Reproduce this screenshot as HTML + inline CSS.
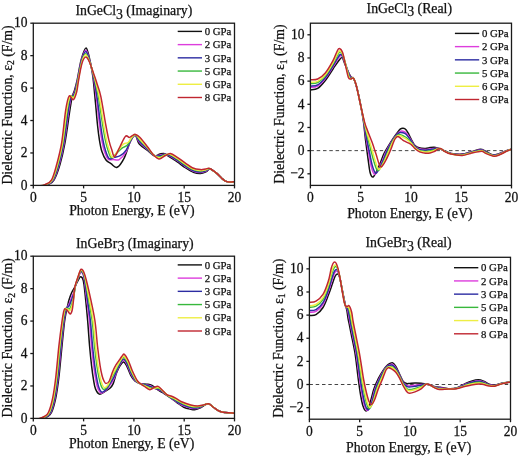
<!DOCTYPE html>
<html><head><meta charset="utf-8"><title>Dielectric Function</title>
<style>html,body{margin:0;padding:0;background:#fff;}body{width:520px;height:457px;overflow:hidden;}svg{display:block;}text{stroke:#111;stroke-width:0.25px;}</style>
</head><body>
<svg width="520" height="457" viewBox="0 0 520 457" font-family="'Liberation Serif', 'Times New Roman', serif" fill="#111">
<clipPath id="c0"><rect x="33.30" y="22.20" width="201.20" height="163.20"/></clipPath>
<g clip-path="url(#c0)" fill="none" stroke-width="1.50" stroke-linejoin="round" stroke-linecap="round">
<path d="M33.30,186.00 C34.75,185.98 39.50,186.13 42.00,185.90 C44.50,185.67 46.28,185.62 48.30,184.60 C50.32,183.58 52.17,183.10 54.10,179.80 C56.03,176.50 58.10,170.90 59.90,164.80 C61.70,158.70 63.23,152.33 64.90,143.20 C66.57,134.07 68.70,117.68 69.90,110.00 C71.10,102.32 71.50,99.93 72.10,97.10 C72.70,94.27 73.07,94.22 73.50,93.00 C73.93,91.78 74.07,92.07 74.70,89.80 C75.33,87.53 76.22,84.42 77.30,79.40 C78.38,74.38 79.73,64.92 81.20,59.70 C82.67,54.48 84.58,47.72 86.10,48.10 C87.62,48.48 89.22,57.52 90.30,62.00 C91.38,66.48 92.02,71.17 92.60,75.00 C93.18,78.83 93.32,80.35 93.80,85.00 C94.28,89.65 94.88,96.23 95.50,102.90 C96.12,109.57 96.85,118.85 97.50,125.00 C98.15,131.15 98.67,135.37 99.40,139.80 C100.13,144.23 100.80,148.23 101.90,151.60 C103.00,154.97 104.48,158.00 106.00,160.00 C107.52,162.00 109.15,162.38 111.00,163.60 C112.85,164.82 114.88,168.27 117.10,167.30 C119.32,166.33 122.12,162.02 124.30,157.80 C126.48,153.58 128.38,145.75 130.20,142.00 C132.02,138.25 133.68,134.97 135.20,135.30 C136.72,135.63 137.18,141.45 139.30,144.00 C141.42,146.55 145.38,148.63 147.90,150.60 C150.42,152.57 152.38,155.23 154.40,155.80 C156.42,156.37 158.30,154.37 160.00,154.00 C161.70,153.63 163.07,153.15 164.60,153.60 C166.13,154.05 167.08,155.32 169.20,156.70 C171.32,158.08 174.60,160.07 177.30,161.90 C180.00,163.73 182.72,165.97 185.40,167.70 C188.08,169.43 190.90,171.32 193.40,172.30 C195.90,173.28 198.25,173.72 200.40,173.60 C202.55,173.48 204.70,172.37 206.30,171.60 C207.90,170.83 208.30,168.73 210.00,169.00 C211.70,169.27 214.58,171.70 216.50,173.20 C218.42,174.70 220.08,176.72 221.50,178.00 C222.92,179.28 223.75,180.23 225.00,180.90 C226.25,181.57 227.42,181.87 229.00,182.00 C230.58,182.13 233.58,181.75 234.50,181.70" stroke="#111111"/>
<path d="M33.30,186.00 C34.62,185.98 38.89,186.13 41.25,185.90 C43.61,185.67 45.44,185.62 47.47,184.60 C49.51,183.58 51.54,183.10 53.48,179.80 C55.41,176.50 57.31,170.90 59.08,164.80 C60.84,158.70 62.45,152.33 64.08,143.20 C65.70,134.07 67.64,117.72 68.85,110.00 C70.06,102.28 70.58,99.40 71.35,96.85 C72.12,94.30 72.83,95.77 73.47,94.67 C74.12,93.58 74.51,92.82 75.20,90.30 C75.89,87.78 76.60,84.49 77.62,79.55 C78.65,74.61 79.99,65.54 81.38,60.68 C82.76,55.81 84.49,50.17 85.92,50.35 C87.36,50.53 88.79,57.61 89.97,61.75 C91.16,65.89 92.29,71.38 93.05,75.17 C93.81,78.97 93.92,80.15 94.55,84.50 C95.18,88.85 95.99,94.50 96.83,101.25 C97.66,108.00 98.75,118.58 99.58,125.00 C100.40,131.43 100.95,135.45 101.75,139.80 C102.55,144.15 103.28,147.88 104.35,151.10 C105.42,154.32 106.70,157.73 108.17,159.12 C109.65,160.52 111.36,159.38 113.20,159.45 C115.04,159.52 117.14,160.68 119.20,159.55 C121.26,158.43 123.62,155.89 125.55,152.70 C127.47,149.51 129.13,143.34 130.75,140.40 C132.37,137.46 133.80,134.75 135.25,135.08 C136.70,135.40 137.37,139.93 139.48,142.38 C141.58,144.82 145.47,147.59 147.90,149.78 C150.33,151.96 152.10,154.57 154.07,155.48 C156.05,156.38 157.98,155.45 159.75,155.22 C161.52,155.00 163.05,154.04 164.68,154.15 C166.30,154.26 167.40,154.78 169.50,155.88 C171.60,156.97 174.65,158.97 177.30,160.75 C179.95,162.53 182.76,164.82 185.40,166.55 C188.04,168.28 190.62,170.14 193.12,171.15 C195.62,172.16 198.24,172.63 200.40,172.60 C202.56,172.57 204.52,171.57 206.10,170.95 C207.68,170.33 208.17,168.50 209.90,168.88 C211.63,169.25 214.57,171.68 216.50,173.20 C218.43,174.72 220.08,176.72 221.50,178.00 C222.92,179.28 223.75,180.23 225.00,180.90 C226.25,181.57 227.42,181.87 229.00,182.00 C230.58,182.13 233.58,181.75 234.50,181.70" stroke="#dd3ddd"/>
<path d="M33.30,186.00 C34.56,185.98 38.58,186.13 40.88,185.90 C43.17,185.67 45.01,185.62 47.06,184.60 C49.11,183.58 51.23,183.10 53.16,179.80 C55.10,176.50 56.91,170.90 58.66,164.80 C60.41,158.70 62.05,152.33 63.66,143.20 C65.27,134.07 67.11,117.75 68.33,110.00 C69.54,102.25 70.12,99.14 70.97,96.72 C71.83,94.31 72.72,96.54 73.46,95.51 C74.21,94.48 74.73,93.20 75.45,90.55 C76.17,87.90 76.79,84.52 77.79,79.62 C78.79,74.73 80.12,65.85 81.46,61.16 C82.80,56.47 84.45,51.40 85.84,51.48 C87.23,51.55 88.57,57.66 89.81,61.62 C91.05,65.59 92.42,71.49 93.28,75.26 C94.13,79.03 94.22,80.06 94.92,84.25 C95.63,88.44 96.54,93.63 97.49,100.42 C98.44,107.22 99.71,118.44 100.61,125.00 C101.52,131.56 102.10,135.49 102.92,139.80 C103.75,144.11 104.52,147.70 105.58,150.85 C106.63,154.00 107.81,157.60 109.26,158.69 C110.72,159.78 112.47,157.88 114.30,157.38 C116.13,156.87 118.27,156.88 120.25,155.68 C122.23,154.47 124.38,152.83 126.17,150.15 C127.97,147.47 129.51,142.13 131.03,139.60 C132.54,137.07 133.85,134.64 135.28,134.96 C136.70,135.29 137.46,139.16 139.56,141.56 C141.67,143.96 145.51,147.07 147.90,149.36 C150.29,151.65 151.96,154.23 153.91,155.31 C155.87,156.39 157.82,155.99 159.62,155.84 C161.43,155.69 163.04,154.49 164.71,154.43 C166.38,154.36 167.55,154.50 169.65,155.46 C171.75,156.42 174.68,158.42 177.30,160.18 C179.93,161.93 182.79,164.24 185.40,165.97 C188.01,167.71 190.49,169.55 192.99,170.57 C195.49,171.60 198.23,172.09 200.40,172.10 C202.57,172.11 204.43,171.17 206.00,170.62 C207.57,170.08 208.10,168.38 209.85,168.81 C211.60,169.24 214.56,171.67 216.50,173.20 C218.44,174.73 220.08,176.72 221.50,178.00 C222.92,179.28 223.75,180.23 225.00,180.90 C226.25,181.57 227.42,181.87 229.00,182.00 C230.58,182.13 233.58,181.75 234.50,181.70" stroke="#2c2ca2"/>
<path d="M33.30,186.00 C34.44,185.98 37.97,186.13 40.12,185.90 C42.28,185.67 44.17,185.62 46.24,184.60 C48.31,183.58 50.60,183.10 52.54,179.80 C54.47,176.50 56.12,170.90 57.84,164.80 C59.55,158.70 61.26,152.33 62.84,143.20 C64.41,134.07 66.04,117.79 67.28,110.00 C68.51,102.21 69.20,98.61 70.22,96.47 C71.25,94.34 72.48,98.09 73.44,97.19 C74.39,96.28 75.17,93.95 75.95,91.05 C76.73,88.15 77.16,84.59 78.11,79.78 C79.06,74.96 80.38,66.48 81.64,62.14 C82.90,57.80 84.35,53.85 85.66,53.73 C86.97,53.60 88.14,57.76 89.49,61.38 C90.83,64.99 92.69,71.71 93.72,75.44 C94.76,79.17 94.83,79.86 95.67,83.75 C96.52,87.64 97.64,91.90 98.81,98.78 C99.98,105.65 101.61,118.16 102.69,125.00 C103.76,131.84 104.39,135.58 105.28,139.80 C106.16,144.03 107.00,147.35 108.03,150.35 C109.05,153.35 110.03,157.33 111.44,157.81 C112.85,158.29 114.68,154.87 116.50,153.22 C118.32,151.58 120.53,149.29 122.35,147.93 C124.17,146.56 125.89,146.70 127.43,145.05 C128.96,143.40 130.26,139.72 131.57,138.00 C132.89,136.28 133.96,134.41 135.32,134.74 C136.69,135.06 137.64,137.64 139.74,139.94 C141.83,142.24 145.59,146.03 147.90,148.54 C150.21,151.05 151.68,153.57 153.59,154.99 C155.50,156.41 157.51,157.06 159.38,157.06 C161.24,157.06 163.03,155.38 164.79,154.97 C166.55,154.57 167.86,153.96 169.95,154.64 C172.04,155.31 174.73,157.33 177.30,159.03 C179.88,160.72 182.83,163.09 185.40,164.82 C187.97,166.56 190.21,168.38 192.71,169.43 C195.21,170.47 198.22,171.01 200.40,171.10 C202.58,171.19 204.24,170.38 205.80,169.97 C207.36,169.57 207.97,168.15 209.75,168.69 C211.53,169.22 214.54,171.65 216.50,173.20 C218.46,174.75 220.08,176.72 221.50,178.00 C222.92,179.28 223.75,180.23 225.00,180.90 C226.25,181.57 227.42,181.87 229.00,182.00 C230.58,182.13 233.58,181.75 234.50,181.70" stroke="#38b83c"/>
<path d="M33.30,186.00 C34.38,185.98 37.66,186.13 39.75,185.90 C41.84,185.67 43.75,185.62 45.83,184.60 C47.90,183.58 50.29,183.10 52.23,179.80 C54.16,176.50 55.72,170.90 57.42,164.80 C59.12,158.70 60.87,152.33 62.43,143.20 C63.98,134.07 65.51,117.81 66.75,110.00 C67.99,102.19 68.74,98.35 69.85,96.35 C70.96,94.35 72.37,98.87 73.43,98.03 C74.48,97.18 75.39,94.33 76.20,91.30 C77.01,88.27 77.35,84.63 78.27,79.85 C79.20,75.07 80.51,66.79 81.73,62.62 C82.94,58.46 84.31,55.08 85.58,54.85 C86.84,54.62 87.93,57.80 89.33,61.25 C90.72,64.70 92.83,71.82 93.95,75.53 C95.07,79.23 95.13,79.76 96.05,83.50 C96.97,87.24 98.20,91.03 99.47,97.95 C100.75,104.87 102.56,118.03 103.72,125.00 C104.89,131.97 105.53,135.62 106.45,139.80 C107.37,143.98 108.24,147.17 109.25,150.10 C110.26,153.03 111.13,157.20 112.53,157.38 C113.92,157.55 115.79,153.37 117.60,151.15 C119.41,148.93 121.66,145.49 123.40,144.05 C125.14,142.61 126.64,143.64 128.05,142.50 C129.46,141.36 130.63,138.51 131.85,137.20 C133.07,135.89 134.02,134.30 135.35,134.62 C136.68,134.95 137.73,136.88 139.82,139.12 C141.92,141.38 145.63,145.51 147.90,148.12 C150.17,150.74 151.53,153.23 153.43,154.82 C155.32,156.42 157.35,157.60 159.25,157.68 C161.15,157.75 163.02,155.82 164.82,155.25 C166.63,154.68 168.02,153.69 170.10,154.22 C172.18,154.76 174.75,156.78 177.30,158.45 C179.85,160.12 182.85,162.52 185.40,164.25 C187.95,165.98 190.08,167.79 192.58,168.85 C195.08,169.91 198.21,170.47 200.40,170.60 C202.59,170.73 204.15,169.98 205.70,169.65 C207.25,169.32 207.90,168.03 209.70,168.62 C211.50,169.22 214.53,171.64 216.50,173.20 C218.47,174.76 220.08,176.72 221.50,178.00 C222.92,179.28 223.75,180.23 225.00,180.90 C226.25,181.57 227.42,181.87 229.00,182.00 C230.58,182.13 233.58,181.75 234.50,181.70" stroke="#eeee44"/>
<path d="M33.30,186.00 C34.25,185.98 37.05,186.13 39.00,185.90 C40.95,185.67 42.90,185.62 45.00,184.60 C47.10,183.58 49.67,183.10 51.60,179.80 C53.53,176.50 54.93,170.90 56.60,164.80 C58.27,158.70 60.08,152.33 61.60,143.20 C63.12,134.07 64.45,117.85 65.70,110.00 C66.95,102.15 67.82,97.82 69.10,96.10 C70.38,94.38 72.13,100.42 73.40,99.70 C74.67,98.98 75.83,95.08 76.70,91.80 C77.57,88.52 77.73,84.70 78.60,80.00 C79.47,75.30 80.77,67.42 81.90,63.60 C83.03,59.78 84.22,57.53 85.40,57.10 C86.58,56.67 87.50,57.90 89.00,61.00 C90.50,64.10 93.10,72.03 94.40,75.70 C95.70,79.37 95.73,79.57 96.80,83.00 C97.87,86.43 99.30,89.30 100.80,96.30 C102.30,103.30 104.47,117.75 105.80,125.00 C107.13,132.25 107.82,135.70 108.80,139.80 C109.78,143.90 110.72,146.82 111.70,149.60 C112.68,152.38 113.35,156.93 114.70,156.50 C116.05,156.07 118.00,150.37 119.80,147.00 C121.60,143.63 123.92,137.90 125.50,136.30 C127.08,134.70 128.15,137.52 129.30,137.40 C130.45,137.28 131.38,136.10 132.40,135.60 C133.42,135.10 134.13,134.08 135.40,134.40 C136.67,134.72 137.92,135.35 140.00,137.50 C142.08,139.65 145.72,144.47 147.90,147.30 C150.08,150.13 151.25,152.57 153.10,154.50 C154.95,156.43 157.03,158.68 159.00,158.90 C160.97,159.12 163.00,156.72 164.90,155.80 C166.80,154.88 168.33,153.15 170.40,153.40 C172.47,153.65 174.80,155.68 177.30,157.30 C179.80,158.92 182.90,161.37 185.40,163.10 C187.90,164.83 189.80,166.62 192.30,167.70 C194.80,168.78 198.20,169.38 200.40,169.60 C202.60,169.82 203.97,169.18 205.50,169.00 C207.03,168.82 207.77,167.80 209.60,168.50 C211.43,169.20 214.52,171.62 216.50,173.20 C218.48,174.78 220.08,176.72 221.50,178.00 C222.92,179.28 223.75,180.23 225.00,180.90 C226.25,181.57 227.42,181.87 229.00,182.00 C230.58,182.13 233.58,181.75 234.50,181.70" stroke="#c02630"/>
</g>
<rect x="33.30" y="23.20" width="201.20" height="162.20" fill="none" stroke="#1a1a1a" stroke-width="1.30"/>
<line x1="33.30" y1="185.40" x2="33.30" y2="188.40" stroke="#1a1a1a" stroke-width="1.30"/>
<text transform="translate(33.30,201.80) scale(1,1.12)" text-anchor="middle" font-size="13.5">0</text>
<line x1="83.60" y1="185.40" x2="83.60" y2="188.40" stroke="#1a1a1a" stroke-width="1.30"/>
<text transform="translate(83.60,201.80) scale(1,1.12)" text-anchor="middle" font-size="13.5">5</text>
<line x1="133.90" y1="185.40" x2="133.90" y2="188.40" stroke="#1a1a1a" stroke-width="1.30"/>
<text transform="translate(133.90,201.80) scale(1,1.12)" text-anchor="middle" font-size="13.5">10</text>
<line x1="184.20" y1="185.40" x2="184.20" y2="188.40" stroke="#1a1a1a" stroke-width="1.30"/>
<text transform="translate(184.20,201.80) scale(1,1.12)" text-anchor="middle" font-size="13.5">15</text>
<line x1="234.50" y1="185.40" x2="234.50" y2="188.40" stroke="#1a1a1a" stroke-width="1.30"/>
<text transform="translate(234.50,201.80) scale(1,1.12)" text-anchor="middle" font-size="13.5">20</text>
<line x1="30.30" y1="185.40" x2="33.30" y2="185.40" stroke="#1a1a1a" stroke-width="1.30"/>
<text transform="translate(27.50,189.60) scale(1,1.12)" text-anchor="end" font-size="13.5">0</text>
<line x1="30.30" y1="152.96" x2="33.30" y2="152.96" stroke="#1a1a1a" stroke-width="1.30"/>
<text transform="translate(27.50,157.16) scale(1,1.12)" text-anchor="end" font-size="13.5">2</text>
<line x1="30.30" y1="120.52" x2="33.30" y2="120.52" stroke="#1a1a1a" stroke-width="1.30"/>
<text transform="translate(27.50,124.72) scale(1,1.12)" text-anchor="end" font-size="13.5">4</text>
<line x1="30.30" y1="88.08" x2="33.30" y2="88.08" stroke="#1a1a1a" stroke-width="1.30"/>
<text transform="translate(27.50,92.28) scale(1,1.12)" text-anchor="end" font-size="13.5">6</text>
<line x1="30.30" y1="55.64" x2="33.30" y2="55.64" stroke="#1a1a1a" stroke-width="1.30"/>
<text transform="translate(27.50,59.84) scale(1,1.12)" text-anchor="end" font-size="13.5">8</text>
<line x1="30.30" y1="23.20" x2="33.30" y2="23.20" stroke="#1a1a1a" stroke-width="1.30"/>
<text transform="translate(27.50,27.40) scale(1,1.12)" text-anchor="end" font-size="13.5">10</text>
<text x="69.20" y="214.50" font-size="13.8">Photon Energy, E (eV)</text>
<text x="75.40" y="14.90" font-size="13.8">InGeCl<tspan dy="3.6">3</tspan><tspan dy="-3.6"> (Imaginary)</tspan></text>
<text transform="translate(11.50,104.95) rotate(-90)" text-anchor="middle" font-size="13.8">Dielectric Function, ε<tspan font-size="9.7" dy="2.5">2</tspan><tspan dy="-2.5"> (F/m)</tspan></text>
<line x1="177.70" y1="31.40" x2="202.00" y2="31.40" stroke="#111111" stroke-width="1.4"/>
<text x="204.70" y="35.10" font-size="10.8">0 GPa</text>
<line x1="177.70" y1="44.62" x2="202.00" y2="44.62" stroke="#dd3ddd" stroke-width="1.4"/>
<text x="204.70" y="48.32" font-size="10.8">2 GPa</text>
<line x1="177.70" y1="57.84" x2="202.00" y2="57.84" stroke="#2c2ca2" stroke-width="1.4"/>
<text x="204.70" y="61.54" font-size="10.8">3 GPa</text>
<line x1="177.70" y1="71.06" x2="202.00" y2="71.06" stroke="#38b83c" stroke-width="1.4"/>
<text x="204.70" y="74.76" font-size="10.8">5 GPa</text>
<line x1="177.70" y1="84.28" x2="202.00" y2="84.28" stroke="#eeee44" stroke-width="1.4"/>
<text x="204.70" y="87.98" font-size="10.8">6 GPa</text>
<line x1="177.70" y1="97.50" x2="202.00" y2="97.50" stroke="#c02630" stroke-width="1.4"/>
<text x="204.70" y="101.20" font-size="10.8">8 GPa</text>
<clipPath id="c1"><rect x="310.40" y="22.20" width="201.10" height="163.20"/></clipPath>
<line x1="310.40" y1="150.64" x2="511.50" y2="150.64" stroke="#444" stroke-width="1" stroke-dasharray="3.5,2.8"/>
<g clip-path="url(#c1)" fill="none" stroke-width="1.50" stroke-linejoin="round" stroke-linecap="round">
<path d="M310.40,90.00 C311.62,89.73 315.22,89.98 317.70,88.40 C320.18,86.82 322.75,83.73 325.30,80.50 C327.85,77.27 330.80,72.25 333.00,69.00 C335.20,65.75 336.98,62.88 338.50,61.00 C340.02,59.12 341.03,57.17 342.10,57.70 C343.17,58.23 343.82,61.72 344.90,64.20 C345.98,66.68 347.58,70.47 348.60,72.60 C349.62,74.73 350.43,76.10 351.00,77.00 C351.57,77.90 351.58,77.80 352.00,78.00 C352.42,78.20 352.67,76.47 353.50,78.20 C354.33,79.93 355.80,83.90 357.00,88.40 C358.20,92.90 359.62,99.62 360.70,105.20 C361.78,110.78 362.70,116.15 363.50,121.90 C364.30,127.65 364.73,133.45 365.50,139.70 C366.27,145.95 367.33,153.93 368.10,159.40 C368.87,164.87 369.33,169.55 370.10,172.50 C370.87,175.45 371.72,177.10 372.70,177.10 C373.68,177.10 374.70,174.93 376.00,172.50 C377.30,170.07 379.18,165.62 380.50,162.50 C381.82,159.38 382.70,156.37 383.90,153.80 C385.10,151.23 386.27,149.52 387.70,147.10 C389.13,144.68 390.97,141.63 392.50,139.30 C394.03,136.97 395.62,134.78 396.90,133.10 C398.18,131.42 399.17,130.00 400.20,129.20 C401.23,128.40 402.13,128.22 403.10,128.30 C404.07,128.38 405.03,128.67 406.00,129.70 C406.97,130.73 407.98,132.82 408.90,134.50 C409.82,136.18 410.48,137.97 411.50,139.80 C412.52,141.63 413.75,144.17 415.00,145.50 C416.25,146.83 417.27,147.32 419.00,147.80 C420.73,148.28 423.57,148.43 425.40,148.40 C427.23,148.37 428.57,147.78 430.00,147.60 C431.43,147.42 432.65,147.20 434.00,147.30 C435.35,147.40 436.93,147.87 438.10,148.20 C439.27,148.53 439.93,148.87 441.00,149.30 C442.07,149.73 442.82,150.12 444.50,150.80 C446.18,151.48 448.15,152.85 451.10,153.40 C454.05,153.95 458.97,154.33 462.20,154.10 C465.43,153.87 467.50,152.82 470.50,152.00 C473.50,151.18 477.67,149.32 480.20,149.20 C482.73,149.08 483.63,150.37 485.70,151.30 C487.77,152.23 490.28,154.45 492.60,154.80 C494.92,155.15 497.28,154.10 499.60,153.40 C501.92,152.70 504.52,151.30 506.50,150.60 C508.48,149.90 510.67,149.43 511.50,149.20" stroke="#111111"/>
<path d="M310.40,87.45 C311.62,87.22 315.22,87.53 317.70,86.05 C320.18,84.58 322.75,81.79 325.30,78.60 C327.85,75.41 330.86,70.23 333.00,66.90 C335.14,63.57 336.73,60.55 338.12,58.62 C339.52,56.70 340.37,54.93 341.40,55.38 C342.43,55.82 343.25,58.67 344.32,61.28 C345.40,63.88 346.88,68.37 347.88,71.00 C348.88,73.63 349.70,75.84 350.32,77.05 C350.95,78.26 351.10,78.08 351.62,78.28 C352.15,78.47 352.59,76.67 353.45,78.20 C354.31,79.73 355.60,83.13 356.77,87.48 C357.95,91.82 359.31,98.54 360.48,104.28 C361.64,110.01 362.83,116.38 363.75,121.90 C364.67,127.42 365.11,131.86 366.00,137.40 C366.89,142.94 368.17,150.04 369.10,155.12 C370.03,160.21 370.67,164.69 371.58,167.90 C372.48,171.11 373.50,173.92 374.52,174.38 C375.55,174.83 376.50,172.77 377.75,170.62 C379.00,168.48 380.75,164.49 382.05,161.53 C383.35,158.56 384.39,155.46 385.57,152.85 C386.76,150.24 387.88,148.17 389.15,145.88 C390.42,143.58 391.90,141.06 393.23,139.08 C394.55,137.09 395.96,135.23 397.12,133.95 C398.29,132.67 399.20,131.82 400.20,131.38 C401.20,130.93 402.13,131.08 403.10,131.30 C404.07,131.53 405.03,131.83 406.00,132.72 C406.97,133.62 407.97,135.28 408.90,136.68 C409.83,138.08 410.56,139.53 411.57,141.12 C412.59,142.72 413.74,144.99 415.00,146.28 C416.26,147.56 417.42,148.27 419.15,148.83 C420.88,149.38 423.59,149.58 425.40,149.60 C427.21,149.62 428.57,149.15 430.00,148.95 C431.43,148.75 432.65,148.49 434.00,148.40 C435.35,148.31 436.93,148.28 438.10,148.40 C439.27,148.52 439.93,148.70 441.00,149.12 C442.07,149.55 442.82,150.18 444.50,150.93 C446.18,151.67 448.15,152.99 451.10,153.57 C454.05,154.16 458.97,154.65 462.20,154.45 C465.43,154.25 467.45,153.14 470.50,152.35 C473.55,151.56 477.99,149.81 480.52,149.72 C483.06,149.64 483.63,150.92 485.70,151.83 C487.77,152.73 490.63,154.83 492.95,155.15 C495.27,155.47 497.34,154.48 499.60,153.75 C501.86,153.02 504.52,151.53 506.50,150.78 C508.48,150.02 510.67,149.46 511.50,149.20" stroke="#dd3ddd"/>
<path d="M310.40,86.17 C311.62,85.96 315.22,86.30 317.70,84.88 C320.18,83.45 322.75,80.82 325.30,77.65 C327.85,74.48 330.89,69.22 333.00,65.85 C335.11,62.48 336.60,59.38 337.94,57.44 C339.28,55.50 340.03,53.82 341.05,54.21 C342.07,54.61 342.96,57.15 344.04,59.81 C345.11,62.48 346.52,67.32 347.51,70.20 C348.50,73.08 349.33,75.71 349.99,77.08 C350.64,78.44 350.86,78.22 351.44,78.41 C352.01,78.60 352.55,76.77 353.43,78.20 C354.30,79.63 355.51,82.74 356.66,87.01 C357.82,91.28 359.16,98.00 360.36,103.81 C361.56,109.63 362.89,116.49 363.88,121.90 C364.86,127.31 365.30,131.07 366.25,136.25 C367.20,141.43 368.59,148.10 369.60,152.99 C370.61,157.88 371.34,162.26 372.31,165.60 C373.29,168.94 374.39,172.33 375.44,173.01 C376.49,173.69 377.39,171.68 378.62,169.69 C379.86,167.69 381.53,163.92 382.82,161.04 C384.12,158.15 385.24,155.00 386.41,152.38 C387.59,149.75 388.68,147.50 389.88,145.26 C391.07,143.03 392.36,140.78 393.59,138.96 C394.81,137.15 396.14,135.46 397.24,134.38 C398.34,133.29 399.22,132.72 400.20,132.46 C401.18,132.20 402.13,132.50 403.10,132.80 C404.07,133.10 405.03,133.41 406.00,134.24 C406.97,135.06 407.96,136.50 408.90,137.76 C409.84,139.02 410.60,140.30 411.61,141.79 C412.63,143.27 413.73,145.40 415.00,146.66 C416.27,147.92 417.49,148.75 419.23,149.34 C420.96,149.93 423.60,150.15 425.40,150.20 C427.20,150.25 428.57,149.83 430.00,149.62 C431.43,149.42 432.65,149.14 434.00,148.95 C435.35,148.76 436.93,148.49 438.10,148.50 C439.27,148.51 439.93,148.62 441.00,149.04 C442.07,149.45 442.82,150.22 444.50,150.99 C446.18,151.76 448.15,153.06 451.10,153.66 C454.05,154.27 458.97,154.81 462.20,154.62 C465.43,154.44 467.42,153.30 470.50,152.53 C473.58,151.75 478.15,150.06 480.69,149.99 C483.22,149.91 483.63,151.20 485.70,152.09 C487.77,152.98 490.81,155.02 493.12,155.32 C495.44,155.63 497.37,154.67 499.60,153.93 C501.83,153.18 504.52,151.65 506.50,150.86 C508.48,150.08 510.67,149.48 511.50,149.20" stroke="#2c2ca2"/>
<path d="M310.40,83.62 C311.62,83.44 315.22,83.84 317.70,82.53 C320.18,81.21 322.75,78.88 325.30,75.75 C327.85,72.62 330.96,67.20 333.00,63.75 C335.04,60.30 336.34,57.04 337.56,55.06 C338.79,53.09 339.37,51.58 340.35,51.89 C341.33,52.19 342.39,54.10 343.46,56.89 C344.54,59.67 345.81,65.23 346.79,68.60 C347.76,71.97 348.60,75.44 349.31,77.12 C350.02,78.81 350.39,78.51 351.06,78.69 C351.74,78.87 352.48,76.97 353.38,78.20 C354.27,79.43 355.31,81.97 356.44,86.09 C357.56,90.20 358.86,96.92 360.14,102.89 C361.42,108.86 363.02,116.72 364.12,121.90 C365.23,127.08 365.67,129.48 366.75,133.95 C367.83,138.42 369.43,144.20 370.60,148.71 C371.77,153.22 372.68,157.40 373.79,161.00 C374.90,164.60 376.16,169.15 377.26,170.29 C378.36,171.42 379.19,169.52 380.38,167.81 C381.56,166.11 383.09,162.79 384.38,160.06 C385.66,157.33 386.93,154.10 388.09,151.43 C389.25,148.75 390.29,146.15 391.32,144.04 C392.36,141.92 393.29,140.21 394.31,138.74 C395.34,137.27 396.48,135.91 397.46,135.22 C398.44,134.54 399.26,134.54 400.20,134.64 C401.14,134.73 402.13,135.36 403.10,135.80 C404.07,136.24 405.03,136.57 406.00,137.26 C406.97,137.95 407.95,138.96 408.90,139.94 C409.85,140.91 410.67,141.86 411.69,143.11 C412.70,144.36 413.72,146.23 415.00,147.44 C416.28,148.65 417.64,149.70 419.38,150.36 C421.11,151.02 423.63,151.30 425.40,151.40 C427.17,151.50 428.57,151.20 430.00,150.97 C431.43,150.75 432.65,150.43 434.00,150.05 C435.35,149.67 436.93,148.90 438.10,148.70 C439.27,148.50 439.93,148.46 441.00,148.86 C442.07,149.26 442.82,150.28 444.50,151.11 C446.18,151.94 448.15,153.19 451.10,153.84 C454.05,154.48 458.97,155.14 462.20,154.97 C465.43,154.81 467.36,153.62 470.50,152.88 C473.64,152.13 478.48,150.56 481.01,150.51 C483.55,150.47 483.62,151.75 485.70,152.61 C487.78,153.47 491.16,155.40 493.48,155.68 C495.79,155.95 497.43,155.05 499.60,154.28 C501.77,153.50 504.52,151.88 506.50,151.04 C508.48,150.19 510.67,149.51 511.50,149.20" stroke="#38b83c"/>
<path d="M310.40,82.35 C311.62,82.18 315.22,82.61 317.70,81.35 C320.18,80.09 322.75,77.91 325.30,74.80 C327.85,71.69 330.99,66.19 333.00,62.70 C335.01,59.21 336.21,55.87 337.38,53.88 C338.54,51.88 339.03,50.47 340.00,50.73 C340.97,50.98 342.10,52.58 343.18,55.42 C344.25,58.27 345.46,64.18 346.43,67.80 C347.39,71.42 348.23,75.31 348.98,77.15 C349.72,78.99 350.15,78.65 350.88,78.82 C351.60,79.00 352.44,77.07 353.35,78.20 C354.26,79.33 355.21,81.59 356.33,85.62 C357.44,89.66 358.70,96.38 360.02,102.42 C361.35,108.47 363.09,116.84 364.25,121.90 C365.41,126.96 365.86,128.69 367.00,132.80 C368.14,136.91 369.85,142.26 371.10,146.58 C372.35,150.89 373.35,154.97 374.52,158.70 C375.70,162.42 377.05,167.56 378.18,168.92 C379.30,170.29 380.09,168.43 381.25,166.88 C382.41,165.32 383.87,162.23 385.15,159.57 C386.43,156.92 387.77,153.64 388.93,150.95 C390.08,148.26 391.09,145.48 392.05,143.42 C393.01,141.37 393.75,139.92 394.67,138.62 C395.60,137.33 396.65,136.13 397.57,135.65 C398.50,135.17 399.28,135.45 400.20,135.72 C401.12,136.00 402.13,136.79 403.10,137.30 C404.07,137.81 405.03,138.15 406.00,138.78 C406.97,139.40 407.95,140.19 408.90,141.02 C409.85,141.86 410.71,142.64 411.73,143.78 C412.74,144.91 413.71,146.64 415.00,147.82 C416.29,149.01 417.72,150.18 419.45,150.88 C421.18,151.57 423.64,151.87 425.40,152.00 C427.16,152.13 428.57,151.88 430.00,151.65 C431.43,151.42 432.65,151.07 434.00,150.60 C435.35,150.12 436.93,149.10 438.10,148.80 C439.27,148.50 439.93,148.38 441.00,148.78 C442.07,149.17 442.82,150.32 444.50,151.18 C446.18,152.03 448.15,153.26 451.10,153.93 C454.05,154.59 458.97,155.30 462.20,155.15 C465.43,155.00 467.34,153.78 470.50,153.05 C473.66,152.32 478.64,150.80 481.18,150.78 C483.71,150.75 483.62,152.03 485.70,152.88 C487.78,153.72 491.33,155.59 493.65,155.85 C495.97,156.11 497.46,155.24 499.60,154.45 C501.74,153.66 504.52,152.00 506.50,151.12 C508.48,150.25 510.67,149.52 511.50,149.20" stroke="#eeee44"/>
<path d="M310.40,79.80 C311.62,79.67 315.22,80.15 317.70,79.00 C320.18,77.85 322.75,75.97 325.30,72.90 C327.85,69.83 331.05,64.17 333.00,60.60 C334.95,57.03 335.95,53.53 337.00,51.50 C338.05,49.47 338.37,48.23 339.30,48.40 C340.23,48.57 341.53,49.53 342.60,52.50 C343.67,55.47 344.75,62.08 345.70,66.20 C346.65,70.32 347.50,75.05 348.30,77.20 C349.10,79.35 349.67,78.93 350.50,79.10 C351.33,79.27 352.37,77.27 353.30,78.20 C354.23,79.13 355.02,80.82 356.10,84.70 C357.18,88.58 358.40,95.30 359.80,101.50 C361.20,107.70 363.22,117.07 364.50,121.90 C365.78,126.73 366.23,127.10 367.50,130.50 C368.77,133.90 370.68,138.37 372.10,142.30 C373.52,146.23 374.68,150.12 376.00,154.10 C377.32,158.08 378.83,164.38 380.00,166.20 C381.17,168.02 381.88,166.27 383.00,165.00 C384.12,163.73 385.43,161.10 386.70,158.60 C387.97,156.10 389.47,152.73 390.60,150.00 C391.73,147.27 392.70,144.13 393.50,142.20 C394.30,140.27 394.68,139.35 395.40,138.40 C396.12,137.45 397.00,136.58 397.80,136.50 C398.60,136.42 399.32,137.27 400.20,137.90 C401.08,138.53 402.13,139.65 403.10,140.30 C404.07,140.95 405.03,141.32 406.00,141.80 C406.97,142.28 407.93,142.65 408.90,143.20 C409.87,143.75 410.78,144.20 411.80,145.10 C412.82,146.00 413.70,147.47 415.00,148.60 C416.30,149.73 417.87,151.13 419.60,151.90 C421.33,152.67 423.67,153.02 425.40,153.20 C427.13,153.38 428.57,153.25 430.00,153.00 C431.43,152.75 432.65,152.37 434.00,151.70 C435.35,151.03 436.93,149.52 438.10,149.00 C439.27,148.48 439.93,148.22 441.00,148.60 C442.07,148.98 442.82,150.38 444.50,151.30 C446.18,152.22 448.15,153.40 451.10,154.10 C454.05,154.80 458.97,155.62 462.20,155.50 C465.43,155.38 467.28,154.10 470.50,153.40 C473.72,152.70 478.97,151.30 481.50,151.30 C484.03,151.30 483.62,152.58 485.70,153.40 C487.78,154.22 491.68,155.97 494.00,156.20 C496.32,156.43 497.52,155.62 499.60,154.80 C501.68,153.98 504.52,152.23 506.50,151.30 C508.48,150.37 510.67,149.55 511.50,149.20" stroke="#c02630"/>
</g>
<rect x="310.40" y="23.20" width="201.10" height="162.20" fill="none" stroke="#1a1a1a" stroke-width="1.30"/>
<line x1="310.40" y1="185.40" x2="310.40" y2="188.40" stroke="#1a1a1a" stroke-width="1.30"/>
<text transform="translate(310.40,201.80) scale(1,1.12)" text-anchor="middle" font-size="13.5">0</text>
<line x1="360.67" y1="185.40" x2="360.67" y2="188.40" stroke="#1a1a1a" stroke-width="1.30"/>
<text transform="translate(360.67,201.80) scale(1,1.12)" text-anchor="middle" font-size="13.5">5</text>
<line x1="410.95" y1="185.40" x2="410.95" y2="188.40" stroke="#1a1a1a" stroke-width="1.30"/>
<text transform="translate(410.95,201.80) scale(1,1.12)" text-anchor="middle" font-size="13.5">10</text>
<line x1="461.23" y1="185.40" x2="461.23" y2="188.40" stroke="#1a1a1a" stroke-width="1.30"/>
<text transform="translate(461.23,201.80) scale(1,1.12)" text-anchor="middle" font-size="13.5">15</text>
<line x1="511.50" y1="185.40" x2="511.50" y2="188.40" stroke="#1a1a1a" stroke-width="1.30"/>
<text transform="translate(511.50,201.80) scale(1,1.12)" text-anchor="middle" font-size="13.5">20</text>
<line x1="307.40" y1="173.81" x2="310.40" y2="173.81" stroke="#1a1a1a" stroke-width="1.30"/>
<text transform="translate(304.60,178.01) scale(1,1.12)" text-anchor="end" font-size="13.5">−2</text>
<line x1="307.40" y1="150.64" x2="310.40" y2="150.64" stroke="#1a1a1a" stroke-width="1.30"/>
<text transform="translate(304.60,154.84) scale(1,1.12)" text-anchor="end" font-size="13.5">0</text>
<line x1="307.40" y1="127.47" x2="310.40" y2="127.47" stroke="#1a1a1a" stroke-width="1.30"/>
<text transform="translate(304.60,131.67) scale(1,1.12)" text-anchor="end" font-size="13.5">2</text>
<line x1="307.40" y1="104.30" x2="310.40" y2="104.30" stroke="#1a1a1a" stroke-width="1.30"/>
<text transform="translate(304.60,108.50) scale(1,1.12)" text-anchor="end" font-size="13.5">4</text>
<line x1="307.40" y1="81.13" x2="310.40" y2="81.13" stroke="#1a1a1a" stroke-width="1.30"/>
<text transform="translate(304.60,85.33) scale(1,1.12)" text-anchor="end" font-size="13.5">6</text>
<line x1="307.40" y1="57.96" x2="310.40" y2="57.96" stroke="#1a1a1a" stroke-width="1.30"/>
<text transform="translate(304.60,62.16) scale(1,1.12)" text-anchor="end" font-size="13.5">8</text>
<line x1="307.40" y1="34.79" x2="310.40" y2="34.79" stroke="#1a1a1a" stroke-width="1.30"/>
<text transform="translate(304.60,38.99) scale(1,1.12)" text-anchor="end" font-size="13.5">10</text>
<text x="347.20" y="217.50" font-size="13.8">Photon Energy, E (eV)</text>
<text x="366.60" y="12.70" font-size="13.8">InGeCl<tspan dy="3.6">3</tspan><tspan dy="-3.6"> (Real)</tspan></text>
<text transform="translate(284.20,104.10) rotate(-90)" text-anchor="middle" font-size="13.8">Dielectric Function, ε<tspan font-size="9.7" dy="2.5">1</tspan><tspan dy="-2.5"> (F/m)</tspan></text>
<line x1="454.90" y1="33.40" x2="479.20" y2="33.40" stroke="#111111" stroke-width="1.4"/>
<text x="481.90" y="37.10" font-size="10.8">0 GPa</text>
<line x1="454.90" y1="46.62" x2="479.20" y2="46.62" stroke="#dd3ddd" stroke-width="1.4"/>
<text x="481.90" y="50.32" font-size="10.8">2 GPa</text>
<line x1="454.90" y1="59.84" x2="479.20" y2="59.84" stroke="#2c2ca2" stroke-width="1.4"/>
<text x="481.90" y="63.54" font-size="10.8">3 GPa</text>
<line x1="454.90" y1="73.06" x2="479.20" y2="73.06" stroke="#38b83c" stroke-width="1.4"/>
<text x="481.90" y="76.76" font-size="10.8">5 GPa</text>
<line x1="454.90" y1="86.28" x2="479.20" y2="86.28" stroke="#eeee44" stroke-width="1.4"/>
<text x="481.90" y="89.98" font-size="10.8">6 GPa</text>
<line x1="454.90" y1="99.50" x2="479.20" y2="99.50" stroke="#c02630" stroke-width="1.4"/>
<text x="481.90" y="103.20" font-size="10.8">8 GPa</text>
<clipPath id="c2"><rect x="33.30" y="255.20" width="201.20" height="163.20"/></clipPath>
<g clip-path="url(#c2)" fill="none" stroke-width="1.50" stroke-linejoin="round" stroke-linecap="round">
<path d="M33.30,419.00 C34.58,418.98 38.63,419.32 41.00,418.90 C43.37,418.48 45.73,417.60 47.50,416.50 C49.27,415.40 50.22,415.42 51.60,412.30 C52.98,409.18 54.58,403.68 55.80,397.80 C57.02,391.92 57.87,385.67 58.90,377.00 C59.93,368.33 61.07,354.97 62.00,345.80 C62.93,336.63 63.80,327.63 64.50,322.00 C65.20,316.37 65.78,314.33 66.20,312.00 C66.62,309.67 66.73,309.17 67.00,308.00 C67.27,306.83 67.48,306.30 67.80,305.00 C68.12,303.70 68.28,302.20 68.90,300.20 C69.52,298.20 70.52,295.18 71.50,293.00 C72.48,290.82 74.05,288.52 74.80,287.10 C75.55,285.68 75.45,285.60 76.00,284.50 C76.55,283.40 77.35,281.80 78.10,280.50 C78.85,279.20 79.63,276.70 80.50,276.70 C81.37,276.70 82.50,277.25 83.30,280.50 C84.10,283.75 84.58,289.62 85.30,296.20 C86.02,302.78 86.88,311.67 87.60,320.00 C88.32,328.33 88.93,338.55 89.60,346.20 C90.27,353.85 90.95,360.32 91.60,365.90 C92.25,371.48 92.85,375.87 93.50,379.70 C94.15,383.53 94.52,386.50 95.50,388.90 C96.48,391.30 97.87,393.67 99.40,394.10 C100.93,394.53 102.95,392.48 104.70,391.50 C106.45,390.52 108.48,389.52 109.90,388.20 C111.32,386.88 112.10,386.12 113.20,383.60 C114.30,381.08 115.30,376.17 116.50,373.10 C117.70,370.03 119.20,367.05 120.40,365.20 C121.60,363.35 122.60,361.77 123.70,362.00 C124.80,362.23 125.80,364.32 127.00,366.60 C128.20,368.88 129.58,373.30 130.90,375.70 C132.22,378.10 133.37,379.68 134.90,381.00 C136.43,382.32 138.15,383.07 140.10,383.60 C142.05,384.13 144.62,383.92 146.60,384.20 C148.58,384.48 150.18,384.38 152.00,385.30 C153.82,386.22 156.00,388.62 157.50,389.70 C159.00,390.78 159.90,391.17 161.00,391.80 C162.10,392.43 162.50,392.48 164.10,393.50 C165.70,394.52 168.42,396.35 170.60,397.90 C172.78,399.45 175.00,401.25 177.20,402.80 C179.40,404.35 181.53,406.12 183.80,407.20 C186.07,408.28 189.00,408.87 190.80,409.30 C192.60,409.73 193.00,410.03 194.60,409.80 C196.20,409.57 198.83,408.62 200.40,407.90 C201.97,407.18 202.63,406.18 204.00,405.50 C205.37,404.82 206.97,403.47 208.60,403.80 C210.23,404.13 211.97,406.27 213.80,407.50 C215.63,408.73 217.67,410.37 219.60,411.20 C221.53,412.03 222.92,412.17 225.40,412.50 C227.88,412.83 232.98,413.08 234.50,413.20" stroke="#111111"/>
<path d="M33.30,419.00 C34.46,418.98 38.01,419.32 40.25,418.90 C42.49,418.48 44.96,417.60 46.73,416.50 C48.49,415.40 49.44,415.42 50.83,412.30 C52.21,409.18 53.81,403.68 55.02,397.80 C56.24,391.92 57.09,385.67 58.12,377.00 C59.16,368.33 60.27,354.97 61.23,345.80 C62.18,336.63 63.13,327.63 63.85,322.00 C64.57,316.37 65.11,314.30 65.55,312.00 C65.99,309.70 66.11,309.10 66.47,308.18 C66.84,307.25 67.29,307.18 67.75,306.43 C68.21,305.67 68.57,305.18 69.23,303.65 C69.88,302.12 70.80,299.46 71.67,297.25 C72.55,295.04 73.80,292.39 74.47,290.38 C75.15,288.36 75.10,287.12 75.70,285.15 C76.30,283.18 77.24,280.68 78.10,278.55 C78.96,276.42 79.88,272.61 80.84,272.39 C81.81,272.18 83.02,273.55 83.90,277.25 C84.78,280.95 85.21,287.45 86.12,294.57 C87.04,301.70 88.49,311.40 89.40,320.00 C90.31,328.60 90.85,338.55 91.57,346.20 C92.30,353.85 93.05,360.48 93.72,365.90 C94.40,371.32 95.00,375.06 95.65,378.70 C96.30,382.34 96.72,385.36 97.62,387.77 C98.53,390.17 99.68,392.70 101.05,393.11 C102.42,393.51 104.26,391.69 105.85,390.19 C107.44,388.69 109.24,385.96 110.58,384.10 C111.91,382.24 112.70,381.44 113.85,379.00 C115.00,376.56 116.30,372.15 117.47,369.45 C118.65,366.75 119.86,364.33 120.93,362.77 C121.99,361.22 122.81,359.72 123.88,360.10 C124.94,360.48 126.10,362.69 127.33,365.08 C128.55,367.46 129.85,371.75 131.22,374.40 C132.60,377.05 134.02,379.44 135.55,381.00 C137.08,382.56 138.68,383.15 140.43,383.78 C142.18,384.40 144.21,384.31 146.05,384.75 C147.89,385.19 149.68,385.67 151.45,386.40 C153.22,387.13 155.20,388.47 156.68,389.15 C158.15,389.82 159.13,389.88 160.28,390.45 C161.42,391.02 161.99,391.45 163.55,392.55 C165.11,393.65 167.60,395.64 169.65,397.07 C171.70,398.51 173.79,399.85 175.82,401.18 C177.86,402.50 179.76,403.96 181.88,405.00 C183.99,406.04 186.54,406.80 188.50,407.40 C190.46,408.00 191.79,408.60 193.65,408.60 C195.51,408.60 197.98,407.96 199.68,407.42 C201.37,406.89 202.34,405.98 203.82,405.38 C205.31,404.77 206.94,403.45 208.60,403.80 C210.26,404.15 211.97,406.27 213.80,407.50 C215.63,408.73 217.67,410.37 219.60,411.20 C221.53,412.03 222.92,412.17 225.40,412.50 C227.88,412.83 232.98,413.08 234.50,413.20" stroke="#dd3ddd"/>
<path d="M33.30,419.00 C34.40,418.98 37.70,419.32 39.88,418.90 C42.05,418.48 44.58,417.60 46.34,416.50 C48.10,415.40 49.05,415.42 50.44,412.30 C51.82,409.18 53.42,403.68 54.64,397.80 C55.85,391.92 56.70,385.67 57.74,377.00 C58.77,368.33 59.87,354.97 60.84,345.80 C61.80,336.63 62.79,327.63 63.52,322.00 C64.26,316.37 64.78,314.29 65.23,312.00 C65.67,309.71 65.80,309.07 66.21,308.26 C66.63,307.45 67.20,307.62 67.72,307.14 C68.25,306.66 68.71,306.67 69.39,305.38 C70.06,304.08 70.94,301.60 71.76,299.38 C72.58,297.15 73.68,294.33 74.31,292.01 C74.94,289.70 74.92,287.79 75.55,285.48 C76.18,283.16 77.21,280.42 78.10,278.11 C78.99,275.80 79.92,271.90 80.91,271.63 C81.89,271.37 83.10,272.83 84.03,276.52 C84.97,280.21 85.49,286.52 86.54,293.76 C87.58,301.01 89.30,311.26 90.30,320.00 C91.30,328.74 91.81,338.55 92.56,346.20 C93.31,353.85 94.09,360.57 94.79,365.90 C95.48,371.23 96.07,374.70 96.72,378.20 C97.38,381.70 97.83,384.58 98.69,386.90 C99.55,389.22 100.59,391.75 101.88,392.12 C103.16,392.48 104.92,390.77 106.42,389.09 C107.93,387.41 109.62,384.11 110.91,382.05 C112.20,379.99 113.00,379.10 114.17,376.70 C115.35,374.30 116.79,370.15 117.96,367.62 C119.13,365.10 120.19,362.98 121.19,361.56 C122.19,360.15 122.91,358.69 123.96,359.15 C125.01,359.61 126.25,361.88 127.49,364.31 C128.73,366.75 129.99,370.97 131.39,373.75 C132.79,376.53 134.34,379.31 135.88,381.00 C137.41,382.69 138.94,383.19 140.59,383.86 C142.24,384.53 144.01,384.51 145.78,385.02 C147.54,385.54 149.43,386.31 151.18,386.95 C152.92,387.59 154.81,388.40 156.26,388.88 C157.72,389.35 158.74,389.24 159.91,389.77 C161.08,390.31 161.73,390.93 163.28,392.07 C164.82,393.22 167.20,395.28 169.18,396.66 C171.15,398.04 173.18,399.16 175.14,400.36 C177.09,401.57 178.88,402.89 180.91,403.90 C182.95,404.91 185.31,405.77 187.35,406.45 C189.39,407.13 191.18,407.88 193.18,408.00 C195.17,408.12 197.55,407.64 199.31,407.19 C201.07,406.74 202.19,405.88 203.74,405.31 C205.29,404.75 206.92,403.44 208.60,403.80 C210.28,404.16 211.97,406.27 213.80,407.50 C215.63,408.73 217.67,410.37 219.60,411.20 C221.53,412.03 222.92,412.17 225.40,412.50 C227.88,412.83 232.98,413.08 234.50,413.20" stroke="#2c2ca2"/>
<path d="M33.30,419.00 C34.27,418.98 37.08,419.32 39.12,418.90 C41.17,418.48 43.81,417.60 45.56,416.50 C47.32,415.40 48.28,415.42 49.66,412.30 C51.05,409.18 52.65,403.68 53.86,397.80 C55.08,391.92 55.93,385.67 56.96,377.00 C58.00,368.33 59.08,354.97 60.06,345.80 C61.05,336.63 62.12,327.63 62.88,322.00 C63.63,316.37 64.11,314.26 64.58,312.00 C65.04,309.74 65.17,309.01 65.69,308.44 C66.20,307.86 67.00,308.50 67.67,308.56 C68.35,308.63 69.00,309.65 69.71,308.82 C70.42,308.00 71.22,305.88 71.94,303.62 C72.65,301.37 73.44,298.20 73.99,295.29 C74.54,292.37 74.56,289.10 75.25,286.12 C75.94,283.15 77.14,280.02 78.10,277.42 C79.06,274.81 79.97,270.83 81.00,270.49 C82.02,270.14 83.19,271.75 84.25,275.36 C85.31,278.97 86.05,284.70 87.36,292.14 C88.67,299.58 90.90,310.99 92.10,320.00 C93.30,329.01 93.74,338.55 94.54,346.20 C95.34,353.85 96.19,360.73 96.91,365.90 C97.64,371.07 98.22,374.05 98.88,377.20 C99.53,380.35 100.04,382.78 100.81,384.81 C101.59,386.84 102.40,389.13 103.53,389.38 C104.65,389.63 106.23,388.22 107.58,386.31 C108.92,384.41 110.38,380.32 111.59,377.95 C112.80,375.58 113.60,374.43 114.83,372.10 C116.05,369.77 117.79,366.14 118.94,363.98 C120.09,361.81 120.85,360.26 121.71,359.14 C122.58,358.02 123.12,356.64 124.14,357.25 C125.15,357.86 126.55,360.25 127.81,362.79 C129.07,365.32 130.26,369.41 131.71,372.45 C133.16,375.49 134.99,379.07 136.53,381.00 C138.06,382.93 139.46,383.28 140.91,384.04 C142.36,384.80 143.61,384.91 145.22,385.57 C146.84,386.24 148.92,387.59 150.62,388.05 C152.33,388.51 154.01,388.26 155.44,388.32 C156.86,388.39 157.97,387.96 159.19,388.43 C160.40,388.89 161.22,389.89 162.72,391.12 C164.23,392.36 166.39,394.57 168.22,395.84 C170.06,397.11 171.97,397.76 173.76,398.74 C175.56,399.71 177.11,400.73 178.99,401.70 C180.87,402.67 182.84,403.70 185.05,404.55 C187.26,405.40 189.97,406.44 192.22,406.80 C194.48,407.16 196.70,406.98 198.59,406.71 C200.48,406.44 201.89,405.67 203.56,405.19 C205.23,404.70 206.89,403.41 208.60,403.80 C210.31,404.19 211.97,406.27 213.80,407.50 C215.63,408.73 217.67,410.37 219.60,411.20 C221.53,412.03 222.92,412.17 225.40,412.50 C227.88,412.83 232.98,413.08 234.50,413.20" stroke="#38b83c"/>
<path d="M33.30,419.00 C34.21,418.98 36.77,419.32 38.75,418.90 C40.73,418.48 43.42,417.60 45.17,416.50 C46.93,415.40 47.89,415.42 49.27,412.30 C50.66,409.18 52.26,403.68 53.48,397.80 C54.69,391.92 55.54,385.67 56.57,377.00 C57.61,368.33 58.68,354.97 59.67,345.80 C60.67,336.63 61.79,327.63 62.55,322.00 C63.31,316.37 63.77,314.25 64.25,312.00 C64.73,309.75 64.86,308.98 65.43,308.52 C65.99,308.07 66.91,308.94 67.65,309.27 C68.39,309.61 69.15,311.14 69.88,310.55 C70.60,309.96 71.37,308.02 72.03,305.75 C72.68,303.48 73.31,300.14 73.83,296.93 C74.34,293.71 74.39,289.75 75.10,286.45 C75.81,283.15 77.11,279.86 78.10,277.12 C79.09,274.38 79.99,270.39 81.03,270.02 C82.07,269.64 83.22,271.32 84.34,274.87 C85.46,278.42 86.33,283.80 87.77,291.32 C89.22,298.85 91.71,310.85 93.00,320.00 C94.29,329.15 94.70,338.55 95.53,346.20 C96.35,353.85 97.24,360.82 97.97,365.90 C98.71,370.98 99.30,373.75 99.95,376.70 C100.60,379.65 101.14,381.79 101.88,383.62 C102.61,385.45 103.30,387.48 104.35,387.66 C105.40,387.84 106.89,386.64 108.15,384.68 C109.41,382.72 110.76,378.38 111.92,375.90 C113.09,373.42 113.90,372.09 115.15,369.80 C116.40,367.51 118.29,364.13 119.43,362.15 C120.56,360.17 121.17,358.90 121.97,357.93 C122.77,356.95 123.23,355.62 124.23,356.30 C125.23,356.98 126.70,359.44 127.98,362.02 C129.25,364.61 130.40,368.64 131.88,371.80 C133.35,374.96 135.32,378.95 136.85,381.00 C138.38,383.05 139.72,383.32 141.07,384.12 C142.42,384.93 143.40,385.10 144.95,385.85 C146.50,386.60 148.67,388.23 150.35,388.60 C152.03,388.97 153.61,388.19 155.02,388.05 C156.44,387.91 157.59,387.32 158.82,387.75 C160.06,388.18 160.96,389.37 162.45,390.65 C163.94,391.93 165.98,394.21 167.75,395.43 C169.52,396.64 171.36,397.06 173.07,397.93 C174.79,398.79 176.22,399.65 178.03,400.60 C179.83,401.55 181.61,402.67 183.90,403.60 C186.19,404.53 189.36,405.72 191.75,406.20 C194.14,406.68 196.27,406.65 198.22,406.48 C200.18,406.30 201.75,405.57 203.48,405.12 C205.20,404.68 206.88,403.40 208.60,403.80 C210.32,404.20 211.97,406.27 213.80,407.50 C215.63,408.73 217.67,410.37 219.60,411.20 C221.53,412.03 222.92,412.17 225.40,412.50 C227.88,412.83 232.98,413.08 234.50,413.20" stroke="#eeee44"/>
<path d="M33.30,419.00 C34.08,418.98 36.15,419.32 38.00,418.90 C39.85,418.48 42.65,417.60 44.40,416.50 C46.15,415.40 47.12,415.42 48.50,412.30 C49.88,409.18 51.48,403.68 52.70,397.80 C53.92,391.92 54.77,385.67 55.80,377.00 C56.83,368.33 57.88,354.97 58.90,345.80 C59.92,336.63 61.12,327.63 61.90,322.00 C62.68,316.37 63.10,314.22 63.60,312.00 C64.10,309.78 64.23,308.92 64.90,308.70 C65.57,308.48 66.72,309.82 67.60,310.70 C68.48,311.58 69.43,314.12 70.20,314.00 C70.97,313.88 71.65,312.30 72.20,310.00 C72.75,307.70 73.07,304.02 73.50,300.20 C73.93,296.38 74.03,291.03 74.80,287.10 C75.57,283.17 77.05,279.58 78.10,276.60 C79.15,273.62 80.03,269.63 81.10,269.20 C82.17,268.77 83.25,270.58 84.50,274.00 C85.75,277.42 86.88,282.03 88.60,289.70 C90.32,297.37 93.32,310.58 94.80,320.00 C96.28,329.42 96.62,338.55 97.50,346.20 C98.38,353.85 99.33,360.98 100.10,365.90 C100.87,370.82 101.45,373.18 102.10,375.70 C102.75,378.22 103.35,379.68 104.00,381.00 C104.65,382.32 105.12,383.60 106.00,383.60 C106.88,383.60 108.20,382.97 109.30,381.00 C110.40,379.03 111.52,374.43 112.60,371.80 C113.68,369.17 114.50,367.42 115.80,365.20 C117.10,362.98 119.28,360.12 120.40,358.50 C121.52,356.88 121.83,356.18 122.50,355.50 C123.17,354.82 123.43,353.57 124.40,354.40 C125.37,355.23 127.00,357.82 128.30,360.50 C129.60,363.18 130.67,367.08 132.20,370.50 C133.73,373.92 135.97,378.70 137.50,381.00 C139.03,383.30 140.25,383.40 141.40,384.30 C142.55,385.20 143.00,385.50 144.40,386.40 C145.80,387.30 148.17,389.52 149.80,389.70 C151.43,389.88 152.82,388.05 154.20,387.50 C155.58,386.95 156.82,386.03 158.10,386.40 C159.38,386.77 160.45,388.33 161.90,389.70 C163.35,391.07 165.17,393.50 166.80,394.60 C168.43,395.70 170.15,395.67 171.70,396.30 C173.25,396.93 174.45,397.50 176.10,398.40 C177.75,399.30 179.15,400.60 181.60,401.70 C184.05,402.80 188.15,404.28 190.80,405.00 C193.45,405.72 195.42,406.00 197.50,406.00 C199.58,406.00 201.45,405.37 203.30,405.00 C205.15,404.63 206.85,403.38 208.60,403.80 C210.35,404.22 211.97,406.27 213.80,407.50 C215.63,408.73 217.67,410.37 219.60,411.20 C221.53,412.03 222.92,412.17 225.40,412.50 C227.88,412.83 232.98,413.08 234.50,413.20" stroke="#c02630"/>
</g>
<rect x="33.30" y="256.20" width="201.20" height="162.20" fill="none" stroke="#1a1a1a" stroke-width="1.30"/>
<line x1="33.30" y1="418.40" x2="33.30" y2="421.40" stroke="#1a1a1a" stroke-width="1.30"/>
<text transform="translate(33.30,434.80) scale(1,1.12)" text-anchor="middle" font-size="13.5">0</text>
<line x1="83.60" y1="418.40" x2="83.60" y2="421.40" stroke="#1a1a1a" stroke-width="1.30"/>
<text transform="translate(83.60,434.80) scale(1,1.12)" text-anchor="middle" font-size="13.5">5</text>
<line x1="133.90" y1="418.40" x2="133.90" y2="421.40" stroke="#1a1a1a" stroke-width="1.30"/>
<text transform="translate(133.90,434.80) scale(1,1.12)" text-anchor="middle" font-size="13.5">10</text>
<line x1="184.20" y1="418.40" x2="184.20" y2="421.40" stroke="#1a1a1a" stroke-width="1.30"/>
<text transform="translate(184.20,434.80) scale(1,1.12)" text-anchor="middle" font-size="13.5">15</text>
<line x1="234.50" y1="418.40" x2="234.50" y2="421.40" stroke="#1a1a1a" stroke-width="1.30"/>
<text transform="translate(234.50,434.80) scale(1,1.12)" text-anchor="middle" font-size="13.5">20</text>
<line x1="30.30" y1="418.40" x2="33.30" y2="418.40" stroke="#1a1a1a" stroke-width="1.30"/>
<text transform="translate(27.50,422.60) scale(1,1.12)" text-anchor="end" font-size="13.5">0</text>
<line x1="30.30" y1="385.96" x2="33.30" y2="385.96" stroke="#1a1a1a" stroke-width="1.30"/>
<text transform="translate(27.50,390.16) scale(1,1.12)" text-anchor="end" font-size="13.5">2</text>
<line x1="30.30" y1="353.52" x2="33.30" y2="353.52" stroke="#1a1a1a" stroke-width="1.30"/>
<text transform="translate(27.50,357.72) scale(1,1.12)" text-anchor="end" font-size="13.5">4</text>
<line x1="30.30" y1="321.08" x2="33.30" y2="321.08" stroke="#1a1a1a" stroke-width="1.30"/>
<text transform="translate(27.50,325.28) scale(1,1.12)" text-anchor="end" font-size="13.5">6</text>
<line x1="30.30" y1="288.64" x2="33.30" y2="288.64" stroke="#1a1a1a" stroke-width="1.30"/>
<text transform="translate(27.50,292.84) scale(1,1.12)" text-anchor="end" font-size="13.5">8</text>
<line x1="30.30" y1="256.20" x2="33.30" y2="256.20" stroke="#1a1a1a" stroke-width="1.30"/>
<text transform="translate(27.50,260.40) scale(1,1.12)" text-anchor="end" font-size="13.5">10</text>
<text x="69.10" y="447.60" font-size="13.8">Photon Energy, E (eV)</text>
<text x="76.00" y="247.60" font-size="13.8">InGeBr<tspan dy="3.6">3</tspan><tspan dy="-3.6"> (Imaginary)</tspan></text>
<text transform="translate(12.00,337.75) rotate(-90)" text-anchor="middle" font-size="13.8">Dielectric Function, ε<tspan font-size="9.7" dy="2.5">2</tspan><tspan dy="-2.5"> (F/m)</tspan></text>
<line x1="177.70" y1="264.90" x2="202.00" y2="264.90" stroke="#111111" stroke-width="1.4"/>
<text x="204.70" y="268.60" font-size="10.8">0 GPa</text>
<line x1="177.70" y1="278.12" x2="202.00" y2="278.12" stroke="#dd3ddd" stroke-width="1.4"/>
<text x="204.70" y="281.82" font-size="10.8">2 GPa</text>
<line x1="177.70" y1="291.34" x2="202.00" y2="291.34" stroke="#2c2ca2" stroke-width="1.4"/>
<text x="204.70" y="295.04" font-size="10.8">3 GPa</text>
<line x1="177.70" y1="304.56" x2="202.00" y2="304.56" stroke="#38b83c" stroke-width="1.4"/>
<text x="204.70" y="308.26" font-size="10.8">5 GPa</text>
<line x1="177.70" y1="317.78" x2="202.00" y2="317.78" stroke="#eeee44" stroke-width="1.4"/>
<text x="204.70" y="321.48" font-size="10.8">6 GPa</text>
<line x1="177.70" y1="331.00" x2="202.00" y2="331.00" stroke="#c02630" stroke-width="1.4"/>
<text x="204.70" y="334.70" font-size="10.8">8 GPa</text>
<clipPath id="c3"><rect x="309.40" y="256.30" width="201.10" height="162.90"/></clipPath>
<line x1="309.40" y1="384.51" x2="510.50" y2="384.51" stroke="#444" stroke-width="1" stroke-dasharray="3.5,2.8"/>
<g clip-path="url(#c3)" fill="none" stroke-width="1.50" stroke-linejoin="round" stroke-linecap="round">
<path d="M309.40,315.50 C310.50,315.37 313.73,316.03 316.00,314.70 C318.27,313.37 320.95,310.73 323.00,307.50 C325.05,304.27 326.72,299.30 328.30,295.30 C329.88,291.30 331.38,286.63 332.50,283.50 C333.62,280.37 334.22,278.08 335.00,276.50 C335.78,274.92 336.53,274.17 337.20,274.00 C337.87,273.83 338.45,274.33 339.00,275.50 C339.55,276.67 339.97,278.58 340.50,281.00 C341.03,283.42 341.52,286.58 342.20,290.00 C342.88,293.42 344.05,298.92 344.60,301.50 C345.15,304.08 345.22,304.42 345.50,305.50 C345.78,306.58 346.05,307.08 346.30,308.00 C346.55,308.92 346.73,309.42 347.00,311.00 C347.27,312.58 347.47,315.00 347.90,317.50 C348.33,320.00 349.02,323.08 349.60,326.00 C350.18,328.92 350.52,330.57 351.40,335.00 C352.28,339.43 354.02,347.43 354.90,352.60 C355.78,357.77 356.12,361.43 356.70,366.00 C357.28,370.57 357.75,375.17 358.40,380.00 C359.05,384.83 359.83,390.67 360.60,395.00 C361.37,399.33 362.10,403.35 363.00,406.00 C363.90,408.65 364.92,411.07 366.00,410.90 C367.08,410.73 368.18,408.65 369.50,405.00 C370.82,401.35 372.43,393.42 373.90,389.00 C375.37,384.58 376.70,381.70 378.30,378.50 C379.90,375.30 382.05,371.97 383.50,369.80 C384.95,367.63 385.92,366.55 387.00,365.50 C388.08,364.45 389.05,363.95 390.00,363.50 C390.95,363.05 391.73,362.32 392.70,362.80 C393.67,363.28 394.68,364.57 395.80,366.40 C396.92,368.23 398.20,371.35 399.40,373.80 C400.60,376.25 401.80,379.48 403.00,381.10 C404.20,382.72 405.52,383.12 406.60,383.50 C407.68,383.88 408.10,383.48 409.50,383.40 C410.90,383.32 413.07,383.03 415.00,383.00 C416.93,382.97 419.28,383.02 421.10,383.20 C422.92,383.38 424.50,383.85 425.90,384.10 C427.30,384.35 428.10,384.30 429.50,384.70 C430.90,385.10 432.50,386.07 434.30,386.50 C436.10,386.93 437.98,386.93 440.30,387.30 C442.62,387.67 445.52,388.58 448.20,388.70 C450.88,388.82 453.67,388.80 456.40,388.00 C459.13,387.20 462.10,385.03 464.60,383.90 C467.10,382.77 469.12,381.88 471.40,381.20 C473.68,380.52 476.25,379.80 478.30,379.80 C480.35,379.80 481.88,380.45 483.70,381.20 C485.52,381.95 487.38,383.62 489.20,384.30 C491.02,384.98 492.55,385.48 494.60,385.30 C496.65,385.12 498.85,383.77 501.50,383.20 C504.15,382.63 509.00,382.12 510.50,381.90" stroke="#111111"/>
<path d="M309.40,312.25 C310.50,312.09 313.73,312.64 316.00,311.30 C318.27,309.96 320.95,307.48 323.00,304.23 C325.05,300.98 326.77,295.88 328.30,291.80 C329.83,287.72 331.14,282.84 332.18,279.75 C333.21,276.66 333.77,274.71 334.50,273.25 C335.23,271.79 335.91,271.12 336.55,271.00 C337.19,270.88 337.77,271.35 338.32,272.50 C338.88,273.65 339.31,275.42 339.88,277.88 C340.44,280.33 341.01,283.75 341.70,287.25 C342.39,290.75 343.42,295.96 344.00,298.88 C344.58,301.79 344.82,303.27 345.20,304.75 C345.58,306.23 345.91,306.90 346.30,307.73 C346.69,308.55 347.10,308.28 347.52,309.68 C347.95,311.07 348.33,313.57 348.82,316.12 C349.32,318.68 349.89,321.85 350.50,325.00 C351.11,328.15 351.58,330.40 352.50,335.00 C353.42,339.60 355.10,347.43 356.00,352.60 C356.90,357.77 357.28,361.43 357.90,366.00 C358.52,370.57 359.03,375.25 359.72,380.00 C360.42,384.75 361.28,390.25 362.08,394.50 C362.87,398.75 363.62,402.84 364.50,405.51 C365.38,408.18 366.28,410.68 367.32,410.50 C368.37,410.32 369.47,408.04 370.75,404.46 C372.03,400.87 373.56,393.33 375.00,389.00 C376.44,384.67 377.88,381.69 379.40,378.50 C380.92,375.31 382.80,371.92 384.12,369.85 C385.45,367.78 386.34,366.94 387.32,366.07 C388.31,365.21 389.15,364.94 390.05,364.68 C390.95,364.41 391.74,363.97 392.70,364.50 C393.66,365.03 394.68,366.15 395.80,367.88 C396.92,369.60 398.20,372.44 399.40,374.82 C400.60,377.21 401.80,380.43 403.00,382.20 C404.20,383.98 405.52,384.86 406.60,385.48 C407.68,386.09 408.10,385.92 409.50,385.88 C410.90,385.83 413.07,385.43 415.00,385.23 C416.93,385.02 419.28,384.80 421.10,384.62 C422.92,384.45 424.50,384.16 425.90,384.18 C427.30,384.19 428.10,384.26 429.50,384.70 C430.90,385.14 432.55,386.27 434.30,386.80 C436.05,387.33 437.68,387.52 440.00,387.85 C442.32,388.18 445.47,388.72 448.20,388.77 C450.93,388.83 453.67,388.88 456.40,388.18 C459.13,387.48 462.10,385.58 464.60,384.57 C467.10,383.57 469.06,382.75 471.40,382.12 C473.74,381.50 476.57,380.84 478.62,380.82 C480.68,380.81 481.94,381.40 483.70,382.05 C485.46,382.70 487.38,384.15 489.20,384.73 C491.02,385.30 492.55,385.75 494.60,385.52 C496.65,385.30 498.85,383.98 501.50,383.38 C504.15,382.77 509.00,382.15 510.50,381.90" stroke="#dd3ddd"/>
<path d="M309.40,310.62 C310.50,310.45 313.73,310.94 316.00,309.60 C318.27,308.26 320.95,305.85 323.00,302.59 C325.05,299.33 326.80,294.17 328.30,290.05 C329.80,285.93 331.02,280.95 332.01,277.88 C333.00,274.80 333.55,273.02 334.25,271.62 C334.95,270.23 335.60,269.60 336.23,269.50 C336.85,269.40 337.43,269.86 337.99,271.00 C338.54,272.14 338.99,273.83 339.56,276.31 C340.14,278.79 340.76,282.33 341.45,285.88 C342.14,289.42 343.10,294.48 343.70,297.56 C344.30,300.65 344.62,302.70 345.05,304.38 C345.48,306.05 345.84,306.81 346.30,307.59 C346.76,308.36 347.29,307.70 347.79,309.01 C348.29,310.32 348.76,312.86 349.29,315.44 C349.81,318.02 350.32,321.24 350.95,324.50 C351.58,327.76 352.12,330.32 353.05,335.00 C353.98,339.68 355.64,347.43 356.55,352.60 C357.46,357.77 357.86,361.43 358.50,366.00 C359.14,370.57 359.67,375.29 360.39,380.00 C361.11,384.71 362.00,390.07 362.81,394.25 C363.62,398.43 364.39,402.44 365.25,405.06 C366.11,407.69 366.97,410.18 367.99,410.00 C369.01,409.82 370.11,407.46 371.38,403.96 C372.64,400.46 374.12,393.24 375.55,389.00 C376.98,384.76 378.47,381.69 379.95,378.50 C381.43,375.31 383.18,371.90 384.44,369.88 C385.69,367.85 386.55,367.13 387.49,366.36 C388.43,365.59 389.21,365.43 390.07,365.26 C390.94,365.09 391.75,364.79 392.70,365.35 C393.65,365.91 394.68,366.95 395.80,368.61 C396.92,370.28 398.20,372.98 399.40,375.34 C400.60,377.69 401.80,380.90 403.00,382.75 C404.20,384.60 405.52,385.74 406.60,386.46 C407.68,387.19 408.10,387.13 409.50,387.11 C410.90,387.09 413.07,386.63 415.00,386.34 C416.93,386.04 419.28,385.69 421.10,385.34 C422.92,384.98 424.50,384.32 425.90,384.21 C427.30,384.11 428.10,384.24 429.50,384.70 C430.90,385.16 432.57,386.38 434.30,386.95 C436.03,387.52 437.53,387.81 439.85,388.12 C442.17,388.44 445.44,388.79 448.20,388.81 C450.96,388.84 453.67,388.91 456.40,388.26 C459.13,387.61 462.10,385.86 464.60,384.91 C467.10,383.97 469.04,383.18 471.40,382.59 C473.76,381.99 476.74,381.36 478.79,381.34 C480.84,381.32 481.96,381.88 483.70,382.48 C485.44,383.08 487.38,384.41 489.20,384.94 C491.02,385.46 492.55,385.88 494.60,385.64 C496.65,385.39 498.85,384.09 501.50,383.46 C504.15,382.84 509.00,382.16 510.50,381.90" stroke="#2c2ca2"/>
<path d="M309.40,307.38 C310.50,307.18 313.73,307.54 316.00,306.20 C318.27,304.86 320.95,302.59 323.00,299.31 C325.05,296.04 326.85,290.75 328.30,286.55 C329.75,282.35 330.78,277.15 331.69,274.12 C332.60,271.10 333.10,269.65 333.75,268.38 C334.40,267.10 334.98,266.56 335.57,266.50 C336.17,266.44 336.75,266.89 337.31,268.00 C337.87,269.11 338.33,270.67 338.94,273.19 C339.54,275.71 340.26,279.50 340.95,283.12 C341.64,286.75 342.47,291.52 343.10,294.94 C343.73,298.35 344.22,301.56 344.75,303.62 C345.28,305.69 345.71,306.64 346.30,307.31 C346.89,307.99 347.66,306.56 348.31,307.69 C348.96,308.81 349.62,311.43 350.21,314.06 C350.80,316.70 351.19,320.01 351.85,323.50 C352.51,326.99 353.18,330.15 354.15,335.00 C355.12,339.85 356.72,347.43 357.65,352.60 C358.57,357.77 359.02,361.43 359.70,366.00 C360.38,370.57 360.95,375.38 361.71,380.00 C362.48,384.62 363.45,389.77 364.29,393.75 C365.13,397.73 365.91,401.44 366.75,403.88 C367.59,406.32 368.33,408.61 369.31,408.40 C370.29,408.19 371.40,405.88 372.62,402.64 C373.85,399.41 375.25,393.02 376.65,389.00 C378.05,384.98 379.65,381.68 381.05,378.50 C382.45,375.32 383.94,371.85 385.06,369.93 C386.19,368.00 386.97,367.52 387.81,366.94 C388.66,366.36 389.31,366.42 390.12,366.44 C390.94,366.46 391.75,366.44 392.70,367.05 C393.65,367.66 394.68,368.54 395.80,370.09 C396.92,371.64 398.20,374.07 399.40,376.36 C400.60,378.66 401.80,381.84 403.00,383.85 C404.20,385.86 405.52,387.48 406.60,388.44 C407.68,389.39 408.10,389.57 409.50,389.59 C410.90,389.61 413.07,389.03 415.00,388.56 C416.93,388.09 419.28,387.47 421.10,386.76 C422.92,386.05 424.50,384.63 425.90,384.29 C427.30,383.94 428.10,384.21 429.50,384.70 C430.90,385.19 432.62,386.59 434.30,387.25 C435.98,387.91 437.23,388.40 439.55,388.68 C441.87,388.95 445.39,388.93 448.20,388.89 C451.01,388.85 453.67,388.99 456.40,388.44 C459.13,387.89 462.10,386.41 464.60,385.59 C467.10,384.77 468.98,384.05 471.40,383.51 C473.82,382.98 477.06,382.39 479.11,382.36 C481.16,382.33 482.02,382.82 483.70,383.32 C485.38,383.82 487.38,384.94 489.20,385.36 C491.02,385.79 492.55,386.15 494.60,385.86 C496.65,385.57 498.85,384.30 501.50,383.64 C504.15,382.98 509.00,382.19 510.50,381.90" stroke="#38b83c"/>
<path d="M309.40,305.75 C310.50,305.54 313.73,305.85 316.00,304.50 C318.27,303.15 320.95,300.96 323.00,297.67 C325.05,294.39 326.88,289.04 328.30,284.80 C329.72,280.56 330.66,275.26 331.52,272.25 C332.39,269.24 332.88,267.96 333.50,266.75 C334.12,265.54 334.67,265.04 335.25,265.00 C335.83,264.96 336.41,265.40 336.98,266.50 C337.54,267.60 338.00,269.08 338.62,271.62 C339.25,274.17 340.00,278.08 340.70,281.75 C341.40,285.42 342.15,290.04 342.80,293.62 C343.45,297.21 344.02,300.99 344.60,303.25 C345.18,305.51 345.64,306.55 346.30,307.17 C346.96,307.80 347.85,305.99 348.58,307.02 C349.30,308.06 350.05,310.71 350.68,313.38 C351.30,316.04 351.63,319.40 352.30,323.00 C352.97,326.60 353.72,330.07 354.70,335.00 C355.68,339.93 357.27,347.43 358.20,352.60 C359.13,357.77 359.60,361.43 360.30,366.00 C361.00,370.57 361.59,375.42 362.38,380.00 C363.16,384.58 364.17,389.64 365.02,393.50 C365.88,397.36 366.68,400.86 367.50,403.16 C368.32,405.46 369.02,407.52 369.98,407.30 C370.93,407.08 372.05,404.89 373.25,401.84 C374.45,398.79 375.81,392.89 377.20,389.00 C378.59,385.11 380.24,381.68 381.60,378.50 C382.96,375.32 384.31,371.83 385.38,369.95 C386.44,368.07 387.18,367.71 387.98,367.23 C388.77,366.74 389.36,366.91 390.15,367.02 C390.94,367.14 391.76,367.27 392.70,367.90 C393.64,368.53 394.68,369.33 395.80,370.82 C396.92,372.32 398.20,374.61 399.40,376.88 C400.60,379.14 401.80,382.31 403.00,384.40 C404.20,386.49 405.52,388.35 406.60,389.42 C407.68,390.50 408.10,390.78 409.50,390.82 C410.90,390.87 413.07,390.23 415.00,389.67 C416.93,389.12 419.28,388.37 421.10,387.47 C422.92,386.58 424.50,384.79 425.90,384.32 C427.30,383.86 428.10,384.19 429.50,384.70 C430.90,385.21 432.65,386.69 434.30,387.40 C435.95,388.11 437.08,388.70 439.40,388.95 C441.72,389.20 445.37,389.00 448.20,388.93 C451.03,388.85 453.67,389.02 456.40,388.52 C459.13,388.02 462.10,386.68 464.60,385.93 C467.10,385.17 468.95,384.48 471.40,383.97 C473.85,383.47 477.23,382.91 479.28,382.88 C481.33,382.84 482.05,383.30 483.70,383.75 C485.35,384.20 487.38,385.20 489.20,385.57 C491.02,385.95 492.55,386.28 494.60,385.98 C496.65,385.67 498.85,384.40 501.50,383.72 C504.15,383.05 509.00,382.20 510.50,381.90" stroke="#eeee44"/>
<path d="M309.40,302.50 C310.50,302.27 313.73,302.45 316.00,301.10 C318.27,299.75 320.95,297.70 323.00,294.40 C325.05,291.10 326.93,285.62 328.30,281.30 C329.67,276.98 330.42,271.47 331.20,268.50 C331.98,265.53 332.43,264.58 333.00,263.50 C333.57,262.42 334.05,262.00 334.60,262.00 C335.15,262.00 335.73,262.42 336.30,263.50 C336.87,264.58 337.35,265.92 338.00,268.50 C338.65,271.08 339.50,275.25 340.20,279.00 C340.90,282.75 341.52,287.08 342.20,291.00 C342.88,294.92 343.62,299.85 344.30,302.50 C344.98,305.15 345.50,306.37 346.30,306.90 C347.10,307.43 348.22,304.85 349.10,305.70 C349.98,306.55 350.92,309.28 351.60,312.00 C352.28,314.72 352.50,318.17 353.20,322.00 C353.90,325.83 354.78,329.90 355.80,335.00 C356.82,340.10 358.35,347.43 359.30,352.60 C360.25,357.77 360.77,361.43 361.50,366.00 C362.23,370.57 362.87,375.50 363.70,380.00 C364.53,384.50 365.62,389.42 366.50,393.00 C367.38,396.58 368.20,399.58 369.00,401.50 C369.80,403.42 370.38,404.75 371.30,404.50 C372.22,404.25 373.33,402.58 374.50,400.00 C375.67,397.42 376.93,392.58 378.30,389.00 C379.67,385.42 381.42,381.67 382.70,378.50 C383.98,375.33 385.07,371.78 386.00,370.00 C386.93,368.22 387.60,368.10 388.30,367.80 C389.00,367.50 389.47,367.90 390.20,368.20 C390.93,368.50 391.77,368.92 392.70,369.60 C393.63,370.28 394.68,370.92 395.80,372.30 C396.92,373.68 398.20,375.70 399.40,377.90 C400.60,380.10 401.80,383.25 403.00,385.50 C404.20,387.75 405.52,390.10 406.60,391.40 C407.68,392.70 408.10,393.22 409.50,393.30 C410.90,393.38 413.07,392.63 415.00,391.90 C416.93,391.17 419.28,390.15 421.10,388.90 C422.92,387.65 424.50,385.10 425.90,384.40 C427.30,383.70 428.10,384.15 429.50,384.70 C430.90,385.25 432.70,386.90 434.30,387.70 C435.90,388.50 436.78,389.28 439.10,389.50 C441.42,389.72 445.32,389.13 448.20,389.00 C451.08,388.87 453.67,389.10 456.40,388.70 C459.13,388.30 462.10,387.23 464.60,386.60 C467.10,385.97 468.90,385.35 471.40,384.90 C473.90,384.45 477.55,383.95 479.60,383.90 C481.65,383.85 482.10,384.25 483.70,384.60 C485.30,384.95 487.38,385.73 489.20,386.00 C491.02,386.27 492.55,386.55 494.60,386.20 C496.65,385.85 498.85,384.62 501.50,383.90 C504.15,383.18 509.00,382.23 510.50,381.90" stroke="#c02630"/>
</g>
<rect x="309.40" y="257.30" width="201.10" height="161.90" fill="none" stroke="#1a1a1a" stroke-width="1.30"/>
<line x1="309.40" y1="419.20" x2="309.40" y2="422.20" stroke="#1a1a1a" stroke-width="1.30"/>
<text transform="translate(309.40,435.60) scale(1,1.12)" text-anchor="middle" font-size="13.5">0</text>
<line x1="359.67" y1="419.20" x2="359.67" y2="422.20" stroke="#1a1a1a" stroke-width="1.30"/>
<text transform="translate(359.67,435.60) scale(1,1.12)" text-anchor="middle" font-size="13.5">5</text>
<line x1="409.95" y1="419.20" x2="409.95" y2="422.20" stroke="#1a1a1a" stroke-width="1.30"/>
<text transform="translate(409.95,435.60) scale(1,1.12)" text-anchor="middle" font-size="13.5">10</text>
<line x1="460.23" y1="419.20" x2="460.23" y2="422.20" stroke="#1a1a1a" stroke-width="1.30"/>
<text transform="translate(460.23,435.60) scale(1,1.12)" text-anchor="middle" font-size="13.5">15</text>
<line x1="510.50" y1="419.20" x2="510.50" y2="422.20" stroke="#1a1a1a" stroke-width="1.30"/>
<text transform="translate(510.50,435.60) scale(1,1.12)" text-anchor="middle" font-size="13.5">20</text>
<line x1="306.40" y1="407.64" x2="309.40" y2="407.64" stroke="#1a1a1a" stroke-width="1.30"/>
<text transform="translate(303.60,411.84) scale(1,1.12)" text-anchor="end" font-size="13.5">−2</text>
<line x1="306.40" y1="384.51" x2="309.40" y2="384.51" stroke="#1a1a1a" stroke-width="1.30"/>
<text transform="translate(303.60,388.71) scale(1,1.12)" text-anchor="end" font-size="13.5">0</text>
<line x1="306.40" y1="361.38" x2="309.40" y2="361.38" stroke="#1a1a1a" stroke-width="1.30"/>
<text transform="translate(303.60,365.58) scale(1,1.12)" text-anchor="end" font-size="13.5">2</text>
<line x1="306.40" y1="338.25" x2="309.40" y2="338.25" stroke="#1a1a1a" stroke-width="1.30"/>
<text transform="translate(303.60,342.45) scale(1,1.12)" text-anchor="end" font-size="13.5">4</text>
<line x1="306.40" y1="315.12" x2="309.40" y2="315.12" stroke="#1a1a1a" stroke-width="1.30"/>
<text transform="translate(303.60,319.32) scale(1,1.12)" text-anchor="end" font-size="13.5">6</text>
<line x1="306.40" y1="291.99" x2="309.40" y2="291.99" stroke="#1a1a1a" stroke-width="1.30"/>
<text transform="translate(303.60,296.19) scale(1,1.12)" text-anchor="end" font-size="13.5">8</text>
<line x1="306.40" y1="268.86" x2="309.40" y2="268.86" stroke="#1a1a1a" stroke-width="1.30"/>
<text transform="translate(303.60,273.06) scale(1,1.12)" text-anchor="end" font-size="13.5">10</text>
<text x="346.00" y="452.00" font-size="13.8">Photon Energy, E (eV)</text>
<text x="365.50" y="247.00" font-size="13.8">InGeBr<tspan dy="3.6">3</tspan><tspan dy="-3.6"> (Real)</tspan></text>
<text transform="translate(282.60,338.20) rotate(-90)" text-anchor="middle" font-size="13.8">Dielectric Function, ε<tspan font-size="9.7" dy="2.5">1</tspan><tspan dy="-2.5"> (F/m)</tspan></text>
<line x1="454.00" y1="267.70" x2="478.30" y2="267.70" stroke="#111111" stroke-width="1.4"/>
<text x="481.00" y="271.40" font-size="10.8">0 GPa</text>
<line x1="454.00" y1="280.92" x2="478.30" y2="280.92" stroke="#dd3ddd" stroke-width="1.4"/>
<text x="481.00" y="284.62" font-size="10.8">2 GPa</text>
<line x1="454.00" y1="294.14" x2="478.30" y2="294.14" stroke="#2c2ca2" stroke-width="1.4"/>
<text x="481.00" y="297.84" font-size="10.8">3 GPa</text>
<line x1="454.00" y1="307.36" x2="478.30" y2="307.36" stroke="#38b83c" stroke-width="1.4"/>
<text x="481.00" y="311.06" font-size="10.8">5 GPa</text>
<line x1="454.00" y1="320.58" x2="478.30" y2="320.58" stroke="#eeee44" stroke-width="1.4"/>
<text x="481.00" y="324.28" font-size="10.8">6 GPa</text>
<line x1="454.00" y1="333.80" x2="478.30" y2="333.80" stroke="#c02630" stroke-width="1.4"/>
<text x="481.00" y="337.50" font-size="10.8">8 GPa</text>
</svg>
</body></html>
